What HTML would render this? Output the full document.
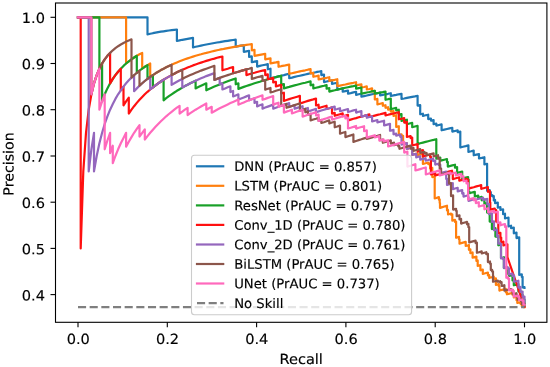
<!DOCTYPE html><html><head><meta charset="utf-8"><title>PR curves</title><style>html,body{margin:0;padding:0;background:#fff}svg{display:block}text{font-family:"DejaVu Sans","Liberation Sans",sans-serif;fill:#000}</style></head><body>
<svg width="550" height="367" viewBox="0 0 550 367">
<rect width="550" height="367" fill="#fff"/>
<clipPath id="c"><rect x="55.5" y="3.0" width="491.4" height="319.3"/></clipPath>
<g clip-path="url(#c)" fill="none" stroke-width="2.2" stroke-linejoin="round" stroke-linecap="square">
<polyline points="78.0,17.3 80.7,17.3 83.3,17.3 86.0,17.3 88.7,17.3 91.4,17.3 94.0,17.3 96.7,17.3 99.4,17.3 102.1,17.3 104.7,17.3 107.4,17.3 110.1,17.3 112.8,17.3 115.4,17.3 118.1,17.3 120.8,17.3 123.5,17.3 126.1,17.3 128.8,17.3 131.5,17.3 134.1,17.3 136.8,17.3 139.5,17.3 142.2,17.3 144.8,17.3 147.5,17.3 147.5,34.4 150.2,33.8 152.9,33.2 155.5,32.7 158.2,32.2 160.9,31.7 163.6,31.3 166.2,30.9 168.9,30.5 171.6,30.1 174.3,29.8 176.9,29.5 176.9,41.0 179.6,40.4 182.3,39.8 184.9,39.3 187.6,38.8 190.3,38.3 193.0,37.8 193.0,47.4 195.6,46.8 198.3,46.2 201.0,45.6 203.7,45.0 206.3,44.5 209.0,44.0 211.7,43.5 214.4,43.0 217.0,42.5 219.7,42.1 222.4,41.6 225.1,41.2 227.7,40.8 230.4,40.4 233.1,40.0 235.7,39.7 235.7,46.6 238.4,46.2 241.1,45.7 243.8,45.3 243.8,51.8 246.4,51.3 249.1,50.8 249.1,56.9 251.8,56.4 251.8,62.2 254.5,61.6 257.1,61.0 257.1,66.6 259.8,65.9 262.5,65.3 265.2,64.7 267.8,64.1 267.8,69.3 270.5,68.7 270.5,78.6 273.2,77.8 275.9,77.1 278.5,76.4 281.2,75.7 283.9,75.1 286.5,74.4 289.2,73.8 289.2,78.2 291.9,77.6 294.6,76.9 297.2,76.3 299.9,75.7 302.6,75.1 305.3,74.5 307.9,73.9 310.6,73.3 313.3,72.8 316.0,72.2 318.6,71.7 321.3,71.1 321.3,75.1 324.0,74.5 324.0,82.1 326.6,81.5 329.3,80.9 332.0,80.3 332.0,83.9 334.7,83.3 337.3,82.7 337.3,89.6 340.0,89.0 342.7,88.4 342.7,91.7 345.4,91.1 348.0,90.5 348.0,93.7 350.7,93.1 353.4,92.4 356.1,91.8 356.1,94.9 358.7,94.3 361.4,93.7 361.4,96.7 364.1,96.1 366.8,95.5 369.4,94.9 372.1,94.3 374.8,93.7 377.4,93.2 380.1,92.6 380.1,95.5 382.8,94.9 385.5,94.3 388.1,93.8 390.8,93.2 390.8,96.0 393.5,95.4 396.2,94.9 398.8,94.3 401.5,93.8 401.5,99.0 404.2,98.5 406.9,97.9 409.5,97.4 412.2,96.9 414.9,96.4 417.6,95.8 417.6,105.6 420.2,105.1 420.2,114.3 422.9,113.7 422.9,115.9 425.6,115.3 428.2,114.7 428.2,119.1 430.9,118.5 430.9,120.6 433.6,120.0 433.6,124.2 436.3,123.5 436.3,125.6 438.9,125.0 441.6,124.4 441.6,130.3 444.3,129.6 447.0,129.0 449.6,128.4 452.3,127.8 452.3,131.6 455.0,131.0 457.7,130.4 457.7,132.2 460.3,131.6 460.3,147.4 463.0,146.7 465.7,146.1 468.4,145.4 468.4,151.9 471.0,151.3 473.7,150.6 473.7,155.3 476.4,154.6 479.0,154.0 479.0,158.5 481.7,157.9 484.4,157.2 484.4,164.4 487.1,163.8 487.1,190.8 489.7,190.1 489.7,192.5 490.8,192.2 490.8,195.6 492.4,195.2 492.4,196.3 493.8,196.0 493.8,200.4 495.1,200.0 495.1,203.2 497.8,202.5 497.8,207.7 500.4,207.0 500.4,210.0 503.1,209.3 503.1,214.2 505.0,213.7 505.0,218.4 505.8,218.2 508.5,217.5 508.5,226.4 511.1,225.7 511.1,228.2 513.8,227.5 513.8,233.3 516.5,232.6 516.5,238.1 519.2,237.4 519.2,243.4 519.2,275.0 521.8,274.3 521.8,277.0 522.6,276.8 522.6,287.5 524.5,287.0 524.5,287.9" stroke="#1f77b4"/>
<polyline points="78.0,17.3 80.7,17.3 83.3,17.3 86.0,17.3 88.7,17.3 91.4,17.3 94.0,17.3 96.7,17.3 99.4,17.3 102.1,17.3 104.7,17.3 107.4,17.3 110.1,17.3 112.8,17.3 115.4,17.3 118.1,17.3 120.8,17.3 123.5,17.3 126.1,17.3 126.1,63.5 128.8,61.3 131.5,59.3 134.1,57.5 136.8,55.8 139.5,54.3 142.2,52.9 142.2,68.7 144.8,66.8 147.5,65.1 150.2,63.5 150.2,76.9 152.9,75.1 155.5,73.3 158.2,71.7 160.9,70.1 163.6,68.7 166.2,67.3 168.9,65.9 171.6,64.7 174.3,63.5 176.9,62.4 179.6,61.3 182.3,60.3 184.9,59.3 187.6,58.4 190.3,57.5 193.0,56.6 195.6,55.8 198.3,55.0 201.0,54.3 203.7,53.5 206.3,52.9 209.0,52.2 211.7,51.5 214.4,50.9 217.0,50.3 219.7,49.7 222.4,49.2 225.1,48.6 227.7,48.1 230.4,47.6 233.1,47.1 235.7,46.6 238.4,46.2 241.1,45.7 243.8,45.3 246.4,44.9 249.1,44.5 251.8,44.1 251.8,50.3 254.5,49.8 254.5,55.8 257.1,55.3 259.8,54.8 262.5,54.3 265.2,53.8 265.2,59.3 267.8,58.8 270.5,58.3 270.5,63.5 273.2,62.9 275.9,62.4 278.5,61.8 278.5,66.8 281.2,66.2 283.9,65.7 286.5,65.1 289.2,64.6 289.2,73.8 291.9,73.2 294.6,72.6 297.2,72.0 299.9,71.4 302.6,70.8 305.3,70.3 307.9,69.7 310.6,69.2 310.6,73.3 313.3,72.8 313.3,76.8 316.0,76.2 318.6,75.6 318.6,79.5 321.3,78.9 324.0,78.3 326.6,77.8 329.3,77.2 329.3,80.9 332.0,80.3 334.7,79.8 337.3,79.2 337.3,86.2 340.0,85.6 342.7,85.0 345.4,84.5 348.0,83.9 350.7,83.3 353.4,82.8 356.1,82.2 356.1,85.5 358.7,84.9 361.4,84.4 361.4,87.5 364.1,87.0 366.8,86.4 366.8,89.5 369.4,89.0 372.1,88.4 372.1,91.4 374.8,90.8 374.8,99.5 377.4,98.9 377.4,104.4 380.1,103.7 382.8,103.1 382.8,105.8 385.5,105.2 385.5,107.8 388.1,107.2 388.1,109.7 390.8,109.1 390.8,111.6 393.5,111.0 393.5,115.9 396.2,115.2 396.2,126.9 398.8,126.2 398.8,135.0 401.5,134.3 401.5,136.4 403.1,135.9 403.1,144.1 404.2,143.8 406.9,143.1 406.9,149.0 409.5,148.2 412.2,147.5 412.2,154.9 414.9,154.1 417.6,153.4 417.6,155.2 420.2,154.4 422.9,153.7 422.9,164.0 425.6,163.2 428.2,162.5 428.2,164.1 430.1,163.6 430.1,168.4 430.9,168.2 432.3,167.8 432.3,177.1 433.6,176.7 434.7,176.4 434.7,198.5 436.3,198.0 438.9,197.1 438.9,199.7 439.7,199.4 439.7,203.1 440.0,203.1 440.0,207.9 441.6,207.4 444.3,206.5 447.0,205.7 447.0,210.4 448.0,210.0 448.0,214.5 449.6,214.0 451.0,213.6 451.0,214.7 452.3,214.3 452.3,220.7 455.0,219.8 455.0,221.9 456.1,221.6 456.1,237.8 457.7,237.3 459.0,236.9 459.0,239.5 459.5,239.4 459.5,243.7 460.3,243.4 463.0,242.6 465.7,241.8 465.7,246.0 468.4,245.2 468.9,245.0 468.9,249.8 470.4,249.4 470.4,253.2 471.0,253.0 472.6,252.5 472.6,257.7 473.7,257.4 476.4,256.6 476.4,260.9 477.7,260.5 477.7,265.9 479.0,265.5 480.4,265.1 480.4,270.3 481.7,269.9 482.8,269.6 482.8,273.9 484.4,273.5 487.1,272.7 487.9,272.5 487.9,275.5 489.2,275.1 489.2,278.0 489.7,277.8 492.4,277.1 493.8,276.7 493.8,279.0 495.1,278.6 495.9,278.4 495.9,284.9 497.8,284.4 498.8,284.1 498.8,286.2 499.4,286.1 499.4,290.6 500.4,290.3 503.1,289.6 505.8,288.9 505.8,292.3 506.9,292.0 506.9,294.3 508.5,293.9 511.1,293.2 512.5,292.9 512.5,294.7 513.8,294.4 513.8,297.5 516.5,296.8 516.5,300.3 517.3,300.1 517.3,303.0 519.2,302.5 520.5,302.2 520.5,303.8 521.8,303.5 521.8,306.3 524.5,305.6 524.5,307.2" stroke="#ff7f0e"/>
<polyline points="78.0,17.3 80.7,17.3 83.3,17.3 86.0,17.3 88.7,17.3 91.4,17.3 94.0,17.3 96.7,17.3 99.4,17.3 99.4,68.7 102.1,63.5 102.1,101.3 104.7,94.3 107.4,88.4 110.1,83.3 112.8,78.9 115.4,75.1 118.1,71.7 120.8,68.7 123.5,65.9 126.1,63.5 128.8,61.3 131.5,59.3 134.1,57.5 136.8,55.8 136.8,72.8 139.5,70.6 142.2,68.7 144.8,66.8 147.5,65.1 147.5,78.9 150.2,76.9 152.9,75.1 152.9,87.3 155.5,85.3 158.2,83.3 160.9,81.5 163.6,79.8 163.6,100.3 166.2,98.2 168.9,96.2 171.6,94.3 174.3,92.5 176.9,90.8 179.6,89.2 182.3,87.6 184.9,86.1 187.6,84.7 190.3,83.3 193.0,82.0 195.6,80.7 195.6,88.4 198.3,87.1 201.0,85.8 203.7,84.5 206.3,83.3 206.3,90.3 209.0,89.0 211.7,87.8 214.4,86.6 217.0,85.5 219.7,84.4 222.4,83.3 225.1,82.3 227.7,81.3 230.4,80.3 233.1,79.4 235.7,78.5 235.7,84.3 238.4,83.3 238.4,88.9 241.1,87.9 243.8,86.9 246.4,86.0 249.1,85.1 251.8,84.2 254.5,83.3 257.1,82.5 259.8,81.7 262.5,80.8 265.2,80.1 267.8,79.3 270.5,78.6 273.2,77.8 275.9,77.1 278.5,76.4 281.2,75.7 281.2,84.8 283.9,84.1 283.9,88.4 286.5,87.6 289.2,86.9 291.9,86.1 294.6,85.4 297.2,84.7 299.9,84.0 302.6,83.3 305.3,82.7 307.9,82.0 310.6,81.4 310.6,85.3 313.3,84.6 313.3,88.4 316.0,87.7 318.6,87.1 321.3,86.4 324.0,85.8 326.6,85.1 326.6,88.7 329.3,88.1 329.3,91.6 332.0,90.9 334.7,90.3 337.3,89.6 340.0,89.0 342.7,88.4 345.4,87.8 348.0,87.2 350.7,86.6 353.4,86.1 356.1,85.5 356.1,88.7 358.7,88.1 361.4,87.5 361.4,93.7 364.1,93.1 366.8,92.5 369.4,92.0 372.1,91.4 374.8,90.8 374.8,93.7 377.4,93.2 380.1,92.6 382.8,92.1 385.5,91.5 385.5,99.8 388.1,99.2 390.8,98.7 390.8,109.1 393.5,108.5 396.2,107.9 396.2,110.4 398.8,109.7 398.8,114.6 401.5,114.0 401.5,121.0 404.2,120.3 406.9,119.7 406.9,124.2 409.5,123.5 412.2,122.9 412.2,127.2 414.9,126.5 417.6,125.9 417.6,144.1 420.2,143.3 422.9,142.6 425.6,141.9 428.2,141.2 430.9,140.5 433.6,139.9 436.3,139.2 436.3,141.0 436.3,158.6 438.9,157.9 440.3,157.5 440.3,160.8 441.6,160.4 444.3,159.7 447.0,159.0 447.0,162.2 447.8,161.9 447.8,166.6 449.6,166.1 452.3,165.4 455.0,164.7 455.0,167.7 457.1,167.1 457.1,172.9 457.7,172.8 460.3,172.1 462.2,171.6 462.2,178.5 463.0,178.3 465.7,177.6 468.1,177.0 468.1,179.6 468.4,179.6 468.6,179.5 468.6,192.3 469.7,192.0 469.7,193.2 471.0,192.8 473.7,192.1 474.8,191.8 474.8,196.5 476.4,196.1 478.2,195.6 478.2,197.9 479.0,197.7 481.7,196.9 481.7,200.3 484.4,199.6 484.4,204.0 487.1,203.2 487.1,212.6 489.7,211.9 489.7,221.6 491.9,221.0 491.9,229.1 492.4,229.0 495.1,228.3 495.4,228.2 495.4,236.6 497.8,236.0 498.3,235.8 498.3,245.3 500.4,244.7 501.0,244.5 501.0,258.0 503.1,257.5 503.9,257.2 503.9,268.1 505.8,267.6 507.4,267.2 507.4,273.6 508.5,273.3 509.0,273.2 509.0,276.0 511.1,275.5 512.5,275.1 512.5,280.5 513.8,280.2 513.8,285.3 516.5,284.6 518.4,284.1 518.4,291.4 519.2,291.2 520.5,290.8 520.5,295.4 521.8,295.0 522.6,294.8 522.6,300.0 524.5,299.6 524.5,302.8" stroke="#18a028"/>
<polyline points="78.0,17.3 80.7,17.3 80.7,248.4 83.3,171.4 86.0,132.8 88.7,109.7 91.4,94.3 94.0,83.3 96.7,75.1 99.4,68.7 102.1,63.5 104.7,59.3 107.4,55.8 110.1,52.9 110.1,83.3 112.8,78.9 115.4,75.1 118.1,71.7 120.8,68.7 120.8,90.3 123.5,86.6 123.5,105.3 126.1,101.3 128.8,97.7 128.8,113.6 131.5,109.7 134.1,106.2 136.8,102.9 139.5,99.8 142.2,97.0 144.8,94.3 147.5,91.8 150.2,89.5 152.9,87.3 155.5,85.3 158.2,83.3 160.9,81.5 163.6,79.8 166.2,78.1 168.9,76.6 171.6,75.1 174.3,73.7 176.9,72.3 179.6,71.0 182.3,69.8 184.9,68.7 187.6,67.5 190.3,66.5 193.0,65.4 195.6,64.5 198.3,63.5 201.0,62.6 203.7,61.7 206.3,60.9 209.0,60.1 211.7,59.3 214.4,58.6 217.0,57.8 219.7,57.1 222.4,56.5 222.4,70.3 225.1,69.5 227.7,68.7 230.4,67.8 233.1,67.1 233.1,73.3 235.7,72.5 238.4,71.7 241.1,70.9 243.8,70.1 246.4,69.4 246.4,75.1 249.1,74.3 251.8,73.5 254.5,72.8 257.1,72.0 259.8,71.3 262.5,70.6 265.2,70.0 265.2,75.1 267.8,74.4 267.8,79.3 270.5,78.6 273.2,77.8 273.2,82.5 275.9,81.8 275.9,86.4 278.5,85.6 281.2,84.8 281.2,93.5 283.9,92.7 283.9,100.9 286.5,100.0 289.2,99.1 291.9,98.3 294.6,97.5 297.2,96.7 299.9,95.9 299.9,103.4 302.6,102.6 305.3,101.7 307.9,100.9 310.6,100.1 313.3,99.4 316.0,98.6 316.0,105.5 318.6,104.7 318.6,108.1 321.3,107.3 324.0,106.5 326.6,105.7 326.6,108.9 329.3,108.2 332.0,107.4 332.0,113.6 334.7,112.8 334.7,115.8 337.3,115.0 340.0,114.2 342.7,113.4 342.7,116.3 345.4,115.6 348.0,114.8 348.0,120.4 350.7,119.6 353.4,118.8 356.1,118.1 358.7,117.3 361.4,116.6 364.1,115.9 366.8,115.1 369.4,114.4 369.4,117.0 372.1,116.3 374.8,115.6 377.4,114.9 380.1,114.3 382.8,113.6 385.5,112.9 385.5,115.4 388.1,114.8 390.8,114.1 393.5,113.5 396.2,112.8 398.8,112.2 398.8,119.3 401.5,118.7 404.2,118.0 404.2,122.6 406.9,121.9 406.9,137.0 409.5,136.3 410.6,136.0 410.6,138.1 412.2,137.6 412.2,145.5 414.9,144.8 417.6,144.1 417.6,151.6 420.2,150.8 422.9,150.1 422.9,156.5 425.6,155.8 428.2,155.0 430.1,154.5 430.1,156.9 430.9,156.7 430.9,174.4 433.6,173.7 435.2,173.2 435.2,175.5 436.3,175.1 438.9,174.4 441.6,173.6 444.3,172.8 447.0,172.1 449.6,171.4 452.0,170.7 452.0,172.9 452.3,172.8 452.8,172.7 452.8,179.1 455.0,178.5 457.7,177.7 459.3,177.3 459.3,180.7 460.3,180.4 463.0,179.7 465.7,179.0 466.5,178.7 466.5,180.1 468.1,179.6 468.1,188.7 468.4,188.6 471.0,187.9 473.7,187.2 476.4,186.4 479.0,185.7 481.2,185.1 481.2,188.8 481.7,188.7 484.4,188.0 487.1,187.3 487.9,187.1 487.9,191.8 489.7,191.3 490.0,191.2 490.0,202.5 490.3,202.4 490.3,209.7 492.4,209.1 494.8,208.5 494.8,210.5 495.1,210.4 496.2,210.2 496.2,221.7 497.8,221.2 497.8,223.1 498.3,222.9 498.3,233.4 500.4,232.8 500.4,237.7 501.2,237.5 501.2,242.2 503.1,241.7 503.4,241.6 503.4,245.4 505.8,244.7 507.4,244.3 507.4,257.0 524.5,306.8" stroke="#ff1010"/>
<polyline points="78.0,17.3 80.7,17.3 83.3,17.3 86.0,17.3 88.7,17.3 88.7,171.4 91.4,149.3 94.0,132.8 94.0,171.4 96.7,156.0 99.4,143.3 102.1,132.8 104.7,124.0 107.4,116.3 110.1,109.7 112.8,104.0 115.4,98.9 118.1,94.3 120.8,90.3 123.5,86.6 126.1,83.3 128.8,80.3 131.5,77.6 134.1,75.1 134.1,91.2 136.8,88.4 139.5,85.8 142.2,83.3 144.8,81.0 147.5,78.9 150.2,76.9 150.2,89.5 152.9,87.3 155.5,85.3 158.2,83.3 160.9,81.5 163.6,79.8 166.2,78.1 168.9,76.6 171.6,75.1 171.6,84.9 174.3,83.3 176.9,81.8 179.6,80.3 182.3,78.9 182.3,87.6 184.9,86.1 187.6,84.7 190.3,83.3 193.0,82.0 195.6,80.7 198.3,79.5 201.0,78.3 203.7,77.2 206.3,76.1 209.0,75.1 211.7,74.1 214.4,73.1 214.4,80.0 217.0,78.9 219.7,77.9 219.7,84.4 222.4,83.3 222.4,89.5 225.1,88.4 227.7,87.3 230.4,86.3 230.4,92.1 233.1,91.0 233.1,96.5 235.7,95.4 238.4,94.3 238.4,99.6 241.1,98.5 243.8,97.4 246.4,96.4 249.1,95.3 249.1,100.3 251.8,99.2 254.5,98.2 254.5,102.9 257.1,101.8 257.1,106.4 259.8,105.3 262.5,104.3 262.5,108.7 265.2,107.6 267.8,106.6 270.5,105.6 273.2,104.6 273.2,108.7 275.9,107.7 278.5,106.8 281.2,105.8 283.9,104.9 286.5,104.0 289.2,103.1 289.2,106.9 291.9,106.0 294.6,105.1 294.6,108.8 297.2,107.9 299.9,107.0 302.6,106.2 302.6,109.7 305.3,108.9 307.9,108.0 307.9,111.4 310.6,110.6 313.3,109.7 316.0,108.9 316.0,112.2 318.6,111.4 321.3,110.5 324.0,109.7 326.6,108.9 329.3,108.2 332.0,107.4 334.7,106.6 334.7,109.7 337.3,109.0 340.0,108.2 340.0,111.2 342.7,110.5 345.4,109.7 348.0,109.0 348.0,111.9 350.7,111.2 353.4,110.4 356.1,109.7 356.1,112.6 358.7,111.8 361.4,111.1 361.4,116.6 364.1,115.9 366.8,115.1 366.8,117.8 369.4,117.0 372.1,116.3 372.1,121.5 374.8,120.7 377.4,120.0 377.4,122.5 380.1,121.8 382.8,121.1 384.1,120.7 384.1,125.5 385.5,125.1 388.1,124.4 390.0,123.9 390.0,130.8 390.8,130.6 393.5,129.9 393.5,134.3 396.2,133.6 396.2,135.7 398.8,135.0 400.2,134.6 400.2,136.8 401.5,136.4 401.5,144.6 404.2,143.8 406.9,143.1 406.9,149.0 409.5,148.2 412.2,147.5 412.2,154.9 414.9,154.1 416.2,153.8 416.2,157.4 417.6,157.0 420.2,156.2 420.2,159.7 422.9,158.9 425.6,158.2 425.6,160.7 428.2,160.0 430.9,159.2 433.1,158.6 433.1,161.1 433.6,161.0 435.2,160.5 435.2,164.6 436.3,164.3 438.9,163.6 438.9,165.1 440.3,164.8 440.3,173.2 441.6,172.9 444.3,172.1 446.2,171.6 446.2,178.9 447.0,178.6 447.0,184.9 449.6,184.1 452.3,183.3 452.8,183.2 452.8,189.2 455.0,188.5 457.7,187.8 457.7,191.4 460.3,190.6 462.2,190.1 462.2,193.6 463.0,193.3 463.5,193.2 463.5,196.6 465.7,196.0 468.1,195.3 468.1,197.2 468.4,197.1 468.6,197.1 468.6,200.9 471.0,200.2 473.7,199.5 474.8,199.2 474.8,200.0 476.4,199.5 479.0,198.8 481.7,198.1 483.1,197.7 483.1,200.0 484.4,199.6 487.1,198.9 487.3,198.8 487.3,204.3 488.9,203.8 488.9,214.1 489.7,213.9 491.9,213.3 491.9,221.9 492.4,221.8 494.0,221.3 494.0,230.3 495.1,230.0 497.0,229.5 497.0,236.2 497.8,236.0 498.3,235.8 498.3,243.7 500.2,243.2 500.2,244.0 500.4,243.9 501.0,243.8 501.0,258.5 503.1,257.9 503.1,259.3 503.9,259.0 503.9,268.0 505.8,267.5 507.4,267.0 507.4,268.7 508.5,268.4 509.0,268.3 509.0,274.5 511.1,273.9 512.5,273.6 512.5,276.0 513.8,275.6 514.1,275.6 514.1,281.8 516.5,281.2 518.4,280.7 518.4,287.6 519.2,287.4 520.5,287.0 520.5,292.0 521.8,291.7 522.6,291.5 522.6,297.0 524.5,296.6 524.5,303.7" stroke="#9467bd"/>
<polyline points="78.0,17.3 80.7,17.3 83.3,17.3 86.0,17.3 88.7,17.3 91.4,17.3 91.4,94.3 94.0,83.3 96.7,75.1 99.4,68.7 102.1,63.5 104.7,59.3 107.4,55.8 110.1,52.9 112.8,50.3 115.4,48.1 118.1,46.2 120.8,44.5 123.5,43.0 126.1,41.6 128.8,40.4 131.5,39.3 131.5,77.6 134.1,75.1 136.8,72.8 139.5,70.6 139.5,85.8 142.2,83.3 144.8,81.0 147.5,78.9 150.2,76.9 152.9,75.1 155.5,73.3 158.2,71.7 160.9,70.1 163.6,68.7 166.2,67.3 168.9,65.9 171.6,64.7 171.6,75.1 174.3,73.7 176.9,72.3 179.6,71.0 182.3,69.8 182.3,78.9 184.9,77.6 187.6,76.3 190.3,75.1 193.0,73.9 195.6,72.8 198.3,71.7 201.0,70.6 203.7,69.6 206.3,68.7 209.0,67.7 211.7,66.8 214.4,65.9 214.4,80.0 217.0,78.9 219.7,77.9 222.4,76.9 225.1,76.0 227.7,75.1 230.4,74.2 233.1,73.3 235.7,72.5 238.4,71.7 241.1,70.9 243.8,70.1 246.4,69.4 249.1,68.7 251.8,67.9 251.8,78.9 254.5,78.1 257.1,77.3 259.8,76.6 262.5,75.8 262.5,80.8 265.2,80.1 265.2,89.7 267.8,88.8 270.5,88.0 270.5,92.5 273.2,91.7 275.9,90.8 278.5,90.0 281.2,89.2 281.2,105.8 283.9,104.9 286.5,104.0 286.5,107.8 289.2,106.9 291.9,106.0 294.6,105.1 297.2,104.2 299.9,103.4 299.9,110.6 302.6,109.7 305.3,108.9 305.3,112.3 307.9,111.4 307.9,114.8 310.6,113.9 310.6,120.5 313.3,119.5 316.0,118.7 318.6,117.8 318.6,120.9 321.3,120.0 321.3,123.0 324.0,122.2 326.6,121.3 329.3,120.4 329.3,123.4 332.0,122.5 334.7,121.7 334.7,127.3 337.3,126.5 340.0,125.6 340.0,133.7 342.7,132.8 345.4,132.0 345.4,137.1 348.0,136.2 350.7,135.4 353.4,134.5 353.4,141.9 356.1,141.0 358.7,140.1 361.4,139.3 364.1,138.4 366.8,137.6 366.8,139.0 369.4,138.2 372.1,137.4 374.8,136.5 377.4,135.8 380.1,135.0 380.1,140.3 382.8,139.6 382.8,142.8 385.5,142.0 388.1,141.2 390.8,140.4 390.8,143.6 393.5,142.8 394.0,142.7 394.0,145.3 396.2,144.7 398.3,144.1 398.3,146.5 398.8,146.4 399.4,146.2 399.4,148.8 401.5,148.2 404.2,147.4 406.9,146.6 409.5,145.9 410.9,145.5 410.9,148.8 412.2,148.4 413.5,148.0 413.5,150.8 414.9,150.5 417.6,149.7 420.2,149.0 420.2,153.0 422.9,152.2 424.5,151.8 424.5,153.6 425.6,153.3 426.6,153.0 426.6,155.3 428.2,154.8 430.9,154.1 433.6,153.4 433.6,156.5 436.3,155.7 438.1,155.2 438.1,158.7 438.9,158.5 439.7,158.3 439.7,168.8 441.1,168.5 441.1,174.5 441.6,174.3 444.3,173.6 447.0,172.8 447.8,172.6 447.8,174.1 449.1,173.7 449.1,183.6 449.6,183.4 451.0,183.0 451.0,196.1 452.3,195.7 453.1,195.4 453.1,209.6 455.0,209.1 456.1,208.8 456.1,211.0 456.7,210.8 456.7,216.2 457.7,215.9 459.5,215.3 459.5,219.5 460.3,219.3 461.1,219.0 461.1,223.6 463.0,223.0 465.7,222.2 467.0,221.8 467.0,224.3 468.4,223.9 468.4,227.2 469.2,227.0 469.2,242.5 471.0,241.9 473.7,241.1 475.6,240.6 475.6,243.1 476.4,242.8 476.9,242.7 476.9,252.8 479.0,252.2 481.7,251.4 481.7,253.5 484.4,252.7 486.3,252.2 486.3,254.2 487.1,254.0 487.9,253.8 487.9,262.1 489.7,261.6 490.0,261.5 490.0,263.7 490.8,263.5 490.8,270.1 492.1,269.8 492.1,271.6 492.4,271.5 493.0,271.4 493.0,281.8 495.1,281.2 497.8,280.5 497.8,281.8 500.2,281.2 500.2,282.6 500.4,282.5 501.6,282.2 501.6,286.0 503.1,285.6 504.4,285.2 504.4,290.7 505.8,290.3 508.5,289.6 511.1,289.0 511.1,290.4 512.7,290.0 512.7,294.2 513.8,293.9 516.5,293.2 516.5,295.9 517.5,295.7 517.5,299.6 519.2,299.2 520.8,298.8 520.8,300.9 521.8,300.6 521.8,304.3 524.5,303.7 524.5,306.0" stroke="#8c564b"/>
<polyline points="78.0,17.3 80.7,17.3 83.3,17.3 86.0,17.3 88.7,17.3 91.4,17.3 91.4,94.3 94.0,83.3 96.7,75.1 99.4,68.7 99.4,109.7 102.1,101.3 104.7,94.3 104.7,149.3 107.4,140.5 110.1,132.8 110.1,153.2 112.8,145.7 112.8,163.2 115.4,156.0 118.1,149.3 120.8,143.3 123.5,137.9 126.1,132.8 126.1,146.7 128.8,141.7 131.5,137.1 134.1,132.8 136.8,128.9 139.5,125.1 139.5,136.6 142.2,132.8 144.8,129.3 144.8,139.6 147.5,136.1 150.2,132.8 152.9,129.7 155.5,126.8 158.2,124.0 160.9,121.3 163.6,118.8 166.2,116.3 168.9,114.0 171.6,111.8 174.3,109.7 176.9,107.7 179.6,105.8 179.6,113.6 182.3,111.6 184.9,109.7 187.6,107.9 187.6,115.1 190.3,113.2 193.0,111.4 195.6,109.7 198.3,108.1 201.0,106.5 203.7,105.0 206.3,103.5 206.3,109.7 209.0,108.2 211.7,106.8 211.7,112.7 214.4,111.2 217.0,109.7 219.7,108.3 222.4,107.0 225.1,105.7 227.7,104.4 230.4,103.1 233.1,101.9 235.7,100.7 238.4,99.6 238.4,104.7 241.1,103.6 243.8,102.4 246.4,101.3 249.1,100.3 251.8,99.2 254.5,98.2 257.1,97.2 259.8,96.2 262.5,95.3 262.5,99.8 265.2,98.9 267.8,97.9 270.5,97.0 273.2,96.1 273.2,104.6 275.9,103.6 278.5,102.7 278.5,106.8 281.2,105.8 283.9,104.9 283.9,112.6 286.5,111.6 289.2,110.7 291.9,109.7 291.9,113.4 294.6,112.5 297.2,111.5 299.9,110.6 302.6,109.7 302.6,116.6 305.3,115.7 307.9,114.8 310.6,113.9 313.3,113.1 316.0,112.2 316.0,115.5 318.6,114.6 318.6,120.9 321.3,120.0 324.0,119.1 326.6,118.3 329.3,117.4 332.0,116.6 332.0,119.6 334.7,118.8 337.3,117.9 340.0,117.1 342.7,116.3 345.4,115.6 345.4,118.4 348.0,117.6 348.0,128.5 350.7,127.7 353.4,126.9 356.1,126.0 356.1,128.6 358.7,127.8 361.4,127.0 364.1,126.2 364.1,131.2 366.8,130.4 366.8,137.6 369.4,136.8 372.1,136.0 374.8,135.2 374.8,137.5 377.4,136.7 379.3,136.1 379.3,140.6 380.1,140.3 382.8,139.6 383.6,139.3 383.6,141.5 385.5,140.9 388.1,140.2 388.1,146.5 390.8,145.7 393.5,144.9 396.2,144.1 398.8,143.3 401.5,142.6 404.2,141.8 404.2,142.8 404.2,152.6 406.9,151.8 407.4,151.7 407.4,166.6 409.5,166.0 412.2,165.2 414.9,164.4 415.4,164.2 415.4,170.5 417.6,169.9 420.2,169.1 422.9,168.3 425.6,167.5 425.8,167.4 425.8,174.4 428.2,173.7 430.9,172.9 433.6,172.1 436.3,171.4 438.9,170.6 439.7,170.4 439.7,175.5 441.6,174.9 444.3,174.2 447.0,173.4 449.6,172.7 450.4,172.5 450.4,174.1 452.3,173.5 455.0,172.8 455.8,172.6 455.8,175.4 457.7,174.9 460.3,174.2 461.4,173.9 461.4,176.8 463.0,176.4 463.5,176.3 463.5,181.3 465.7,180.7 466.5,180.5 466.5,183.5 468.1,183.1 468.1,199.6 468.4,199.5 471.0,198.7 473.7,198.0 473.7,200.3 475.8,199.7 475.8,203.1 476.4,202.9 478.8,202.2 478.8,206.6 479.0,206.5 481.7,205.8 484.4,205.1 484.4,209.3 487.1,208.5 488.1,208.2 488.1,212.3 489.7,211.9 492.4,211.2 494.0,210.7 494.0,212.7 495.1,212.4 497.8,211.7 497.8,223.1 500.4,222.3 500.4,225.3 503.1,224.5 505.0,224.0 505.0,226.9 505.8,226.7 506.3,226.5 506.3,227.8 506.3,277.8 508.2,277.3 508.2,279.0 508.5,278.9 509.0,278.8 509.0,290.5 511.1,289.9 512.5,289.6 512.5,291.3 513.8,290.9 513.8,296.6 516.5,295.9 518.4,295.5 518.4,297.2 519.2,297.0 519.2,300.2 521.8,299.6 522.6,299.4 522.6,301.0 523.4,300.8 523.4,304.7 524.5,304.5 524.5,304.6" stroke="#ff69bc"/>
<line x1="78.0" y1="307.2" x2="524.5" y2="307.2" stroke="#7f7f7f" stroke-width="2.2" stroke-dasharray="8.1 3.56" stroke-linecap="butt"/>
</g>
<rect x="55.5" y="3.0" width="491.4" height="319.3" fill="none" stroke="#000" stroke-width="1.1"/>
<line x1="78.0" y1="322.3" x2="78.0" y2="327.3" stroke="#000" stroke-width="1.1"/>
<text transform="translate(78.2,343.9) rotate(0.03) scale(1.04,1)" font-size="14.0" text-anchor="middle" stroke="#000" stroke-width="0.15">0.0</text>
<line x1="167.3" y1="322.3" x2="167.3" y2="327.3" stroke="#000" stroke-width="1.1"/>
<text transform="translate(167.5,343.9) rotate(0.03) scale(1.04,1)" font-size="14.0" text-anchor="middle" stroke="#000" stroke-width="0.15">0.2</text>
<line x1="256.6" y1="322.3" x2="256.6" y2="327.3" stroke="#000" stroke-width="1.1"/>
<text transform="translate(256.8,343.9) rotate(0.03) scale(1.04,1)" font-size="14.0" text-anchor="middle" stroke="#000" stroke-width="0.15">0.4</text>
<line x1="345.9" y1="322.3" x2="345.9" y2="327.3" stroke="#000" stroke-width="1.1"/>
<text transform="translate(346.1,343.9) rotate(0.03) scale(1.04,1)" font-size="14.0" text-anchor="middle" stroke="#000" stroke-width="0.15">0.6</text>
<line x1="435.2" y1="322.3" x2="435.2" y2="327.3" stroke="#000" stroke-width="1.1"/>
<text transform="translate(435.4,343.9) rotate(0.03) scale(1.04,1)" font-size="14.0" text-anchor="middle" stroke="#000" stroke-width="0.15">0.8</text>
<line x1="524.5" y1="322.3" x2="524.5" y2="327.3" stroke="#000" stroke-width="1.1"/>
<text transform="translate(524.7,343.9) rotate(0.03) scale(1.04,1)" font-size="14.0" text-anchor="middle" stroke="#000" stroke-width="0.15">1.0</text>
<line x1="50.5" y1="294.6" x2="55.5" y2="294.6" stroke="#000" stroke-width="1.1"/>
<text transform="translate(45.0,300.4) rotate(0.03) scale(1.04,1)" font-size="14.0" text-anchor="end" stroke="#000" stroke-width="0.15">0.4</text>
<line x1="50.5" y1="248.4" x2="55.5" y2="248.4" stroke="#000" stroke-width="1.1"/>
<text transform="translate(45.0,254.2) rotate(0.03) scale(1.04,1)" font-size="14.0" text-anchor="end" stroke="#000" stroke-width="0.15">0.5</text>
<line x1="50.5" y1="202.2" x2="55.5" y2="202.2" stroke="#000" stroke-width="1.1"/>
<text transform="translate(45.0,208.0) rotate(0.03) scale(1.04,1)" font-size="14.0" text-anchor="end" stroke="#000" stroke-width="0.15">0.6</text>
<line x1="50.5" y1="156.0" x2="55.5" y2="156.0" stroke="#000" stroke-width="1.1"/>
<text transform="translate(45.0,161.8) rotate(0.03) scale(1.04,1)" font-size="14.0" text-anchor="end" stroke="#000" stroke-width="0.15">0.7</text>
<line x1="50.5" y1="109.7" x2="55.5" y2="109.7" stroke="#000" stroke-width="1.1"/>
<text transform="translate(45.0,115.5) rotate(0.03) scale(1.04,1)" font-size="14.0" text-anchor="end" stroke="#000" stroke-width="0.15">0.8</text>
<line x1="50.5" y1="63.5" x2="55.5" y2="63.5" stroke="#000" stroke-width="1.1"/>
<text transform="translate(45.0,69.3) rotate(0.03) scale(1.04,1)" font-size="14.0" text-anchor="end" stroke="#000" stroke-width="0.15">0.9</text>
<line x1="50.5" y1="17.3" x2="55.5" y2="17.3" stroke="#000" stroke-width="1.1"/>
<text transform="translate(45.0,23.1) rotate(0.03) scale(1.04,1)" font-size="14.0" text-anchor="end" stroke="#000" stroke-width="0.15">1.0</text>
<text transform="translate(301.2,363.9) rotate(0.03) scale(1.04,1)" font-size="14.0" text-anchor="middle" stroke="#000" stroke-width="0.15">Recall</text>
<text transform="translate(13.5,164.0) rotate(-89.97) scale(1.015,1)" font-size="14.0" text-anchor="middle" stroke="#000" stroke-width="0.15">Precision</text>
<rect x="191.5" y="155.3" width="220.1" height="159.5" rx="3" ry="3" fill="#fff" fill-opacity="0.8" stroke="#ccc" stroke-width="1.1"/>
<line x1="195.9" y1="166.3" x2="224.3" y2="166.3" stroke="#1f77b4" stroke-width="2.2"/>
<text transform="translate(234.2,171.1) rotate(0.03) scale(1.0,1)" font-size="13.2" text-anchor="start" stroke="#000" stroke-width="0.15">DNN (PrAUC = 0.857)</text>
<line x1="195.9" y1="185.8" x2="224.3" y2="185.8" stroke="#ff7f0e" stroke-width="2.2"/>
<text transform="translate(234.2,190.6) rotate(0.03) scale(1.0,1)" font-size="13.2" text-anchor="start" stroke="#000" stroke-width="0.15">LSTM (PrAUC = 0.801)</text>
<line x1="195.9" y1="205.4" x2="224.3" y2="205.4" stroke="#18a028" stroke-width="2.2"/>
<text transform="translate(234.2,210.2) rotate(0.03) scale(1.0,1)" font-size="13.2" text-anchor="start" stroke="#000" stroke-width="0.15">ResNet (PrAUC = 0.797)</text>
<line x1="195.9" y1="224.9" x2="224.3" y2="224.9" stroke="#ff1010" stroke-width="2.2"/>
<text transform="translate(234.2,229.7) rotate(0.03) scale(1.0,1)" font-size="13.2" text-anchor="start" stroke="#000" stroke-width="0.15">Conv_1D (PrAUC = 0.780)</text>
<line x1="195.9" y1="244.5" x2="224.3" y2="244.5" stroke="#9467bd" stroke-width="2.2"/>
<text transform="translate(234.2,249.3) rotate(0.03) scale(1.0,1)" font-size="13.2" text-anchor="start" stroke="#000" stroke-width="0.15">Conv_2D (PrAUC = 0.761)</text>
<line x1="195.9" y1="264.0" x2="224.3" y2="264.0" stroke="#8c564b" stroke-width="2.2"/>
<text transform="translate(234.2,268.8) rotate(0.03) scale(1.0,1)" font-size="13.2" text-anchor="start" stroke="#000" stroke-width="0.15">BiLSTM (PrAUC = 0.765)</text>
<line x1="195.9" y1="283.5" x2="224.3" y2="283.5" stroke="#ff69bc" stroke-width="2.2"/>
<text transform="translate(234.2,288.3) rotate(0.03) scale(1.0,1)" font-size="13.2" text-anchor="start" stroke="#000" stroke-width="0.15">UNet (PrAUC = 0.737)</text>
<line x1="197.0" y1="303.1" x2="223.5" y2="303.1" stroke="#7f7f7f" stroke-width="2.2" stroke-dasharray="8.1 3.56"/>
<text transform="translate(234.2,307.9) rotate(0.03) scale(1.0,1)" font-size="13.2" text-anchor="start" stroke="#000" stroke-width="0.15">No Skill</text>
</svg></body></html>
